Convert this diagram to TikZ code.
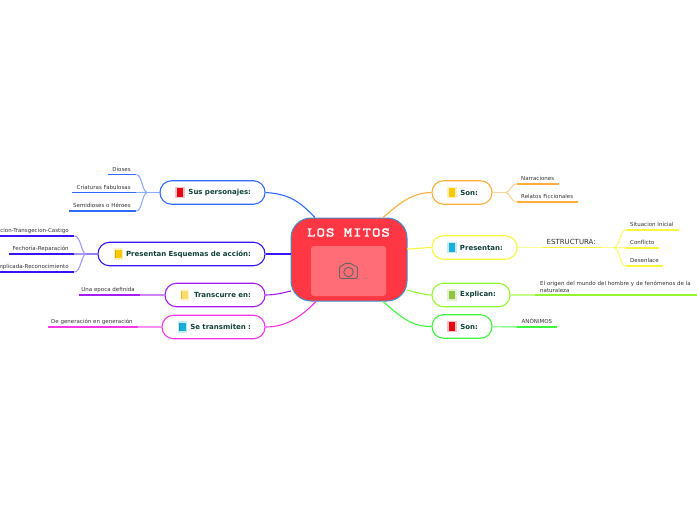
\documentclass[tikz,border=0pt]{standalone}
\usepackage{fontspec}
\setmainfont{DejaVu Sans}
\newfontfamily\titlefont[FakeBold=2.5, FakeStretch=1.25, LetterSpace=8]{Latin Modern Mono}
\usetikzlibrary{positioning, calc}
\definecolor{mitosred}{HTML}{FF3744}
\definecolor{mitosblue}{HTML}{3F8FCB}
\definecolor{darkteal}{HTML}{0F4238}
\definecolor{cblue}{HTML}{2F6BFF}
\definecolor{cindigo}{HTML}{3A14F5}
\definecolor{cpurple}{HTML}{A51DF0}
\definecolor{cpink}{HTML}{F536E6}
\definecolor{corange}{HTML}{FFAE3C}
\definecolor{cyellow}{HTML}{F7F73C}
\definecolor{clime}{HTML}{92F72E}
\definecolor{cgreen}{HTML}{3EF53E}
\definecolor{bookred}{HTML}{E30613}
\definecolor{bookgold}{HTML}{FFC800}
\definecolor{bookcyan}{HTML}{18AEDC}
\definecolor{bookpale}{HTML}{FFDD66}
\definecolor{bookgreen}{HTML}{8CC63F}

\begin{document}
\begin{tikzpicture}[
    x=1pt, y=-1pt,
    mitos/.style={rectangle, draw=mitosblue, fill=mitosred, line width=1pt, rounded corners=20pt,
        minimum width=116pt, minimum height=83pt, inner sep=0pt},
    photo/.style={rectangle, fill=white, fill opacity=0.27, rounded corners=3pt,
        minimum width=75pt, minimum height=50pt, inner sep=0pt},
    branch/.style={rectangle, draw, fill=white, line width=1.1pt, rounded corners=11.5pt, minimum height=23.5pt,
        inner xsep=14pt, inner ysep=0pt, align=right, text=darkteal,
        font=\fontsize{7}{8}\selectfont\bfseries},
    book/.style={rectangle, fill=#1, draw=#1!25, line width=1.1pt, minimum width=8pt, minimum height=10pt, inner sep=0pt,
        path picture={\fill[#1!85!black] (path picture bounding box.south west) rectangle ([xshift=1.2pt]path picture bounding box.north west);}},
    leaf/.style={rectangle, inner xsep=0pt, inner ysep=2pt, anchor=south west, text height=4.2pt, text depth=1.2pt,
        text=black!80, font=\fontsize{5.5}{7}\selectfont},
    leafl/.style={leaf, text width=#1, align=right, execute at end node={\hspace*{5.5pt}}},
    leafr/.style={leaf, text width=#1, align=left, execute at begin node={\hspace*{4.5pt}}},
    link/.style={line width=1.1pt},
    pale/.style={line width=1.6pt, opacity=0.55},
    under/.style={line width=1.4pt}
]
\useasboundingbox (0,0) rectangle (697,520);

% Central topic
\node[mitos] (mitos) at (349,259.5) {};
\node[photo] (photo) at (348.5,271) {};
\node[text=white, font=\titlefont\fontsize{13}{15}\selectfont] (title) at (348.5,232.5) {LOS MITOS};

% Camera
\draw[black!60, line width=0.9pt, rounded corners=1.5pt]
    (339.5,266) -- (343,266) -- (344,263.3) -- (352,263.3) -- (353,266) -- (357.5,266) -- (357.5,278.5) -- (339.5,278.5) -- cycle;
\node[circle, draw=black!60, line width=0.9pt, minimum size=9.5pt, inner sep=0pt] (lens) at (348.5,272) {};

% Main branches, left
\node[branch, draw=cblue, text width=77pt, minimum width=105pt] (sus) at (212.5,192.5) {Sus personajes:};
\node[branch, draw=cindigo, text width=139pt, minimum width=167pt] (esquemas) at (181.5,254) {Presentan Esquemas de acción:};
\node[branch, draw=cpurple, text width=72pt, minimum width=100pt] (transcurre) at (215,295) {Transcurre en:};
\node[branch, draw=cpink, text width=75pt, minimum width=103pt] (transmiten) at (213.5,327) {Se transmiten :};

% Main branches, right
\node[branch, draw=corange, text width=32pt, minimum width=60pt] (son) at (462,192.5) {Son:};
\node[branch, draw=cyellow, text width=57pt, minimum width=85pt] (presentan) at (474.5,247.5) {Presentan:};
\node[branch, draw=clime, text width=50pt, minimum width=78pt] (explican) at (471,295) {Explican:};
\node[branch, draw=cgreen, text width=32pt, minimum width=60pt] (sonb) at (462,326.5) {Son:};

% Books
\node[book=bookred] (bsus) at (180,192.5) {};
\node[book=bookgold] (besquemas) at (118.5,254) {};
\node[book=bookpale] (btranscurre) at (184.5,295) {};
\node[book=bookcyan] (btransmiten) at (182.5,327) {};
\node[book=bookgold] (bson) at (452,192.5) {};
\node[book=bookcyan] (bpresentan) at (452,247.5) {};
\node[book=bookgreen] (bexplican) at (452,295) {};
\node[book=bookred] (bsonb) at (452,326.5) {};

% Links to the centre
\draw[link, cblue] (sus.east) .. controls (290,194) and (300,202) .. ([xshift=-34pt]mitos.north);
\draw[link, cindigo] (esquemas.east) -- (mitos.west |- esquemas.east);
\draw[link, cpurple] (transcurre.east) .. controls (275,295) and (282,293) .. (291,291);
\draw[link, cpink] (transmiten.east) .. controls (285,327) and (300,318) .. ([xshift=-33pt]mitos.south);
\draw[link, corange] (son.west) .. controls (410,193) and (398,205) .. ([xshift=34pt]mitos.north);
\draw[link, cyellow] (presentan.west) .. controls (425,247.5) and (415,249) .. (407,249);
\draw[link, clime] (explican.west) .. controls (425,295) and (415,292) .. (407,290);
\draw[link, cgreen] (sonb.west) .. controls (410,327) and (398,314) .. ([xshift=34pt]mitos.south);

% Leaves, left
\node[leafl=28pt] (dioses) at (108,174.5) {Dioses};
\node[leafl=64pt] (criaturas) at (72,192.5) {Criaturas Fabulosas};
\node[leafl=67pt] (semidioses) at (69,211) {Semidioses o Héroes};
\node[leafl=102pt] (prohibicion) at (-28,236) {Prohibicion-Transgecion-Castigo};
\node[leafl=65pt] (fechoria) at (9,254) {Fechoría-Reparación};
\node[leafl=95pt] (complicada) at (-21,272) {Complicada-Reconocimiento};
\node[leafl=61pt] (epoca) at (79,295) {Una epoca definida};
\node[leafl=90pt] (generacion) at (48,327) {De generación en generación};

% Leaves, right
\coordinate (jsus) at (147,192.5);
\coordinate (jesquemas) at (86,254);
\coordinate (json) at (506,192.5);
\coordinate (jestructura) at (614,247.5);
\node[leafr=42pt] (narraciones) at (516.5,184) {Narraciones};
\node[leafr=61pt] (relatos) at (516.5,202) {Relatos Ficcionales};
\node[leafr=60pt, font=\fontsize{7}{8}\selectfont] (estructura) at (542,247.5) {ESTRUCTURA:};
\node[leafr=53pt] (situacion) at (625.5,230) {Situacion Inicial};
\node[leafr=33pt] (conflicto) at (625.5,248) {Conflicto};
\node[leafr=37pt] (desenlace) at (625.5,266) {Desenlace};
\node[leaf, align=left, text width=152pt, inner xsep=5pt, text height=, text depth=] (origen) at (535,295) {El origen del mundo del hombre y de fenómenos de la naturaleza};
\node[leafr=40pt] (anonimos) at (517,327) {ANÓNIMOS};

% Underlines
\draw[under, cblue] (dioses.south west) -- (dioses.south east);
\draw[under, cblue] (criaturas.south west) -- (criaturas.south east);
\draw[under, cblue] (semidioses.south west) -- (semidioses.south east);
\draw[under, cindigo] (prohibicion.south west) -- (prohibicion.south east);
\draw[under, cindigo] (fechoria.south west) -- (fechoria.south east);
\draw[under, cindigo] (complicada.south west) -- (complicada.south east);
\draw[under, cpurple] (epoca.south west) -- (epoca.south east);
\draw[under, cpink] (generacion.south west) -- (generacion.south east);
\draw[under, corange] (narraciones.south west) -- (narraciones.south east);
\draw[under, corange] (relatos.south west) -- (relatos.south east);
\draw[under, cyellow] (estructura.south west) -- (estructura.south east);
\draw[under, cyellow] (situacion.south west) -- (situacion.south east);
\draw[under, cyellow] (conflicto.south west) -- (conflicto.south east);
\draw[under, cyellow] (desenlace.south west) -- (desenlace.south east);
\draw[under, clime] (origen.south west) -- (origen.south east);
\draw[under, cgreen] (anonimos.south west) -- (anonimos.south east);

% Pale links
\draw[pale, cblue] (sus.west) -- (jsus);
\draw[pale, cindigo] (esquemas.west) -- (jesquemas);
\draw[pale, cpurple] (transcurre.west) -- (epoca.south east);
\draw[pale, cpink] (transmiten.west) -- (generacion.south east);
\draw[pale, corange] (son.east) -- (json);
\draw[pale, cyellow] (presentan.east) -- (estructura.south west);
\draw[pale, cyellow] (estructura.south east) -- (jestructura);
\draw[pale, clime] (explican.east) -- (origen.south west);
\draw[pale, cgreen] (sonb.east) -- (anonimos.south west);

% Forks
\draw[link, cblue!55] (jsus) .. controls (142,191) and (142,175) .. (dioses.south east);
\draw[link, cblue!55] (jsus) -- (criaturas.south east);
\draw[link, cblue!55] (jsus) .. controls (142,194) and (142,211) .. (semidioses.south east);
\draw[link, cindigo!45] (jesquemas) .. controls (81,253) and (81,236) .. (prohibicion.south east);
\draw[link, cindigo!45] (jesquemas) -- (fechoria.south east);
\draw[link, cindigo!45] (jesquemas) .. controls (81,255) and (81,272) .. (complicada.south east);
\draw[link, corange!55] (json) .. controls (511,191) and (511,184) .. (narraciones.south west);
\draw[link, corange!55] (json) .. controls (511,194) and (511,202) .. (relatos.south west);
\draw[link, cyellow!70] (jestructura) .. controls (620,246) and (620,230) .. (situacion.south west);
\draw[link, cyellow!70] (jestructura) -- (conflicto.south west);
\draw[link, cyellow!70] (jestructura) .. controls (620,249) and (620,266) .. (desenlace.south west);

\end{tikzpicture}
\end{document}
